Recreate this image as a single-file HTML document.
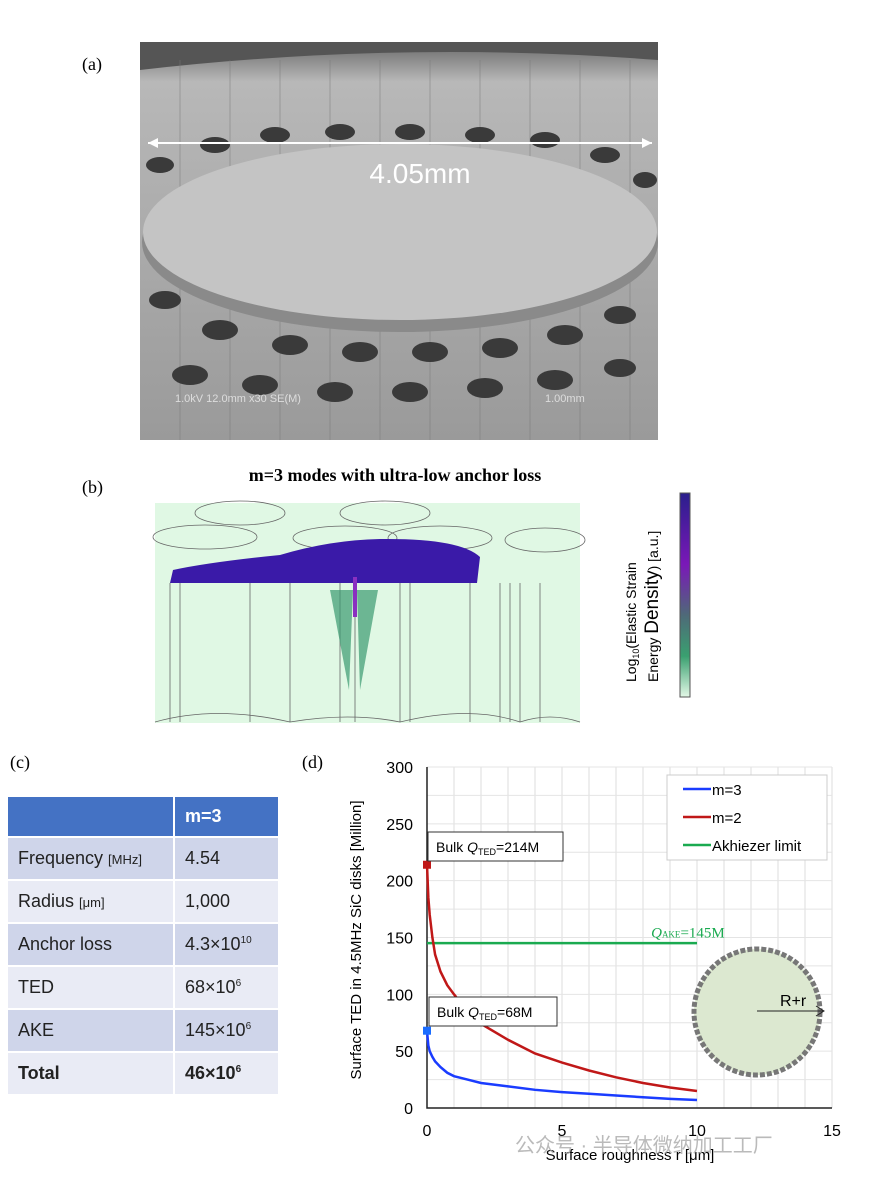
<!DOCTYPE html>
<html><head><meta charset="utf-8"><style>
body{margin:0;background:#fff;width:869px;height:1179px;position:relative;overflow:hidden;font-family:"Liberation Sans",sans-serif}
.abs{position:absolute}
table{border-collapse:separate;border-spacing:2px;font-family:"Liberation Sans",sans-serif;font-size:18px;color:#222}
td{height:39px;padding:0 0 0 10px}
tr.b td{height:41px}
</style></head><body>
<svg class="abs" style="left:0;top:0" width="869" height="1179">
<defs>
<linearGradient id="cb" x1="0" y1="0" x2="0" y2="1"><stop offset="0" stop-color="#2a1f8c"/><stop offset="0.35" stop-color="#7a18b8"/><stop offset="0.6" stop-color="#4e6a78"/><stop offset="0.8" stop-color="#3aa070"/><stop offset="1" stop-color="#e2f8e6"/></linearGradient>
<linearGradient id="sem" x1="0" y1="0" x2="0" y2="1"><stop offset="0" stop-color="#6a6a6a"/><stop offset="0.1" stop-color="#b8b8b8"/><stop offset="1" stop-color="#9a9a9a"/></linearGradient>
</defs>
<text x="82" y="70" font-family="Liberation Serif" font-size="18">(a)</text>
<g>
<rect x="140" y="42" width="518" height="398" fill="url(#sem)"/>
<path d="M140 42 H658 V60 Q400 40 140 70 Z" fill="#555"/>
<g stroke="#777" stroke-width="0.8" opacity="0.6">
<path d="M180 60V440 M230 60V440 M280 60V440 M330 60V440 M380 60V440 M430 60V440 M480 60V440 M530 60V440 M580 60V440 M630 60V440"/>
</g>
<g fill="#3a3a3a">
<ellipse cx="160" cy="165" rx="14" ry="8"/><ellipse cx="215" cy="145" rx="15" ry="8"/><ellipse cx="275" cy="135" rx="15" ry="8"/><ellipse cx="340" cy="132" rx="15" ry="8"/><ellipse cx="410" cy="132" rx="15" ry="8"/><ellipse cx="480" cy="135" rx="15" ry="8"/><ellipse cx="545" cy="140" rx="15" ry="8"/><ellipse cx="605" cy="155" rx="15" ry="8"/><ellipse cx="645" cy="180" rx="12" ry="8"/>
<ellipse cx="165" cy="300" rx="16" ry="9"/><ellipse cx="220" cy="330" rx="18" ry="10"/><ellipse cx="290" cy="345" rx="18" ry="10"/><ellipse cx="360" cy="352" rx="18" ry="10"/><ellipse cx="430" cy="352" rx="18" ry="10"/><ellipse cx="500" cy="348" rx="18" ry="10"/><ellipse cx="565" cy="335" rx="18" ry="10"/><ellipse cx="620" cy="315" rx="16" ry="9"/>
<ellipse cx="190" cy="375" rx="18" ry="10"/><ellipse cx="260" cy="385" rx="18" ry="10"/><ellipse cx="335" cy="392" rx="18" ry="10"/><ellipse cx="410" cy="392" rx="18" ry="10"/><ellipse cx="485" cy="388" rx="18" ry="10"/><ellipse cx="555" cy="380" rx="18" ry="10"/><ellipse cx="620" cy="368" rx="16" ry="9"/>
</g>
<ellipse cx="400" cy="242" rx="258" ry="90" fill="#8a8a8a"/>
<ellipse cx="400" cy="232" rx="257" ry="88" fill="#c4c4c4"/>
<line x1="148" y1="143" x2="652" y2="143" stroke="#fff" stroke-width="2"/>
<path d="M148 143 l10 -5 v10z M652 143 l-10 -5 v10z" fill="#fff"/>
<text x="420" y="183" font-size="28" fill="#fff" text-anchor="middle">4.05mm</text>
<text x="175" y="402" font-size="11" fill="#ddd">1.0kV 12.0mm x30 SE(M)</text>
<text x="545" y="402" font-size="11" fill="#ddd">1.00mm</text>
</g>
<text x="82" y="493" font-family="Liberation Serif" font-size="18">(b)</text>
<text x="395" y="481" font-family="Liberation Serif" font-size="18" font-weight="bold" text-anchor="middle">m=3 modes with ultra-low anchor loss</text>
<g>
<rect x="155" y="503" width="425" height="220" fill="#e0f8e4"/>
<g fill="none" stroke="#666" stroke-width="0.8">
<ellipse cx="240" cy="513" rx="45" ry="12"/><ellipse cx="385" cy="513" rx="45" ry="12"/><ellipse cx="205" cy="537" rx="52" ry="12"/><ellipse cx="345" cy="538" rx="52" ry="12"/><ellipse cx="440" cy="538" rx="52" ry="12"/><ellipse cx="545" cy="540" rx="40" ry="12"/>
<path d="M170 583 V722 M180 583 V722 M250 583 V722 M290 583 V722 M340 583 V722 M355 583 V722 M400 583 V722 M410 583 V722 M470 583 V722 M500 583 V722 M510 583 V722 M520 583 V722 M540 583 V722 M155 722 Q215 705 290 722 Q350 712 400 722 Q470 705 520 722 Q550 712 580 722"/>
</g>
<path d="M170 583 L173 570 Q210 562 280 555 Q330 540 380 539 Q460 538 480 557 L477 583 Z" fill="#3a1aa8"/>
<path d="M330 590 L349 690 L353 590 Z M357 590 L360 690 L378 590 Z" fill="#3a9a70" opacity="0.7"/>
<rect x="353" y="577" width="4" height="40" fill="#8a30c0"/>
</g>
<rect x="680" y="493" width="10" height="204" fill="url(#cb)" stroke="#555"/>
<text transform="translate(636,682) rotate(-90)" font-size="14">Log<tspan font-size="9" dy="3">10</tspan><tspan dy="-3">(Elastic Strain</tspan></text>
<text transform="translate(658,682) rotate(-90)" font-size="14">Energy <tspan font-size="19">Density</tspan>) [a.u.]</text>
<text x="10" y="768" font-family="Liberation Serif" font-size="18">(c)</text>
<text x="302" y="768" font-family="Liberation Serif" font-size="18">(d)</text>
<g id="chart"></g>
</svg>
<table class="abs" style="left:6px;top:795px;width:274px">
<tr style="background:#4472c4;color:#fff;font-weight:bold"><td style="width:155px"></td><td>m=3</td></tr>
<tr class="b" style="background:#cfd5ea"><td>Frequency <span style="font-size:13px">[MHz]</span></td><td>4.54</td></tr>
<tr class="b" style="background:#e9ebf5"><td>Radius <span style="font-size:13px">[μm]</span></td><td>1,000</td></tr>
<tr class="b" style="background:#cfd5ea"><td>Anchor loss</td><td>4.3×10<sup style="font-size:10px">10</sup></td></tr>
<tr class="b" style="background:#e9ebf5"><td>TED</td><td>68×10<sup style="font-size:10px">6</sup></td></tr>
<tr class="b" style="background:#cfd5ea"><td>AKE</td><td>145×10<sup style="font-size:10px">6</sup></td></tr>
<tr class="b" style="background:#e9ebf5;font-weight:bold"><td>Total</td><td>46×10<sup style="font-size:10px">6</sup></td></tr>
</table>
<script>
const xTicks=[0,5,10,15];
const yTicks=[0,50,100,150,200,250,300];
const rVals=[0,0.05,0.1,0.2,0.3,0.5,0.75,1,1.5,2,3,4,5,6,7,8,9,10];
const m3Vals=[68,55,50,45,41,36,31,28,25,22,19,16,14,12.5,11,9.5,8,7];
const m2Vals=[214,185,170,150,135,120,108,100,85,74,60,48,40,33,27,22,18,15];
const akeX=[0,10];
const akeVal=145;
const NS='http://www.w3.org/2000/svg';
const X0=427,XS=27,Y0=1108,YS=341/300;
const sx=v=>X0+v*XS, sy=v=>Y0-v*YS;
const g=document.getElementById('chart');
function mk(t,a){const e=document.createElementNS(NS,t);for(const k in a)e.setAttribute(k,a[k]);g.appendChild(e);return e;}
for(let v=0;v<=15;v+=1){const l=mk('line',{x1:sx(v),x2:sx(v),y1:sy(0),y2:sy(300),stroke:'#ddd'});

}
for(let v=0;v<=300;v+=25){const l=mk('line',{x1:sx(0),x2:sx(15),y1:sy(v),y2:sy(v),stroke:'#e4e4e4'});

}
const ax=mk('path',{d:`M${sx(0)} ${sy(300)} V${sy(0)} H${sx(15)}`,fill:'none',stroke:'#222','stroke-width':1.5});


xTicks.forEach(v=>{const t=mk('text',{x:sx(v),y:1136,'font-size':16,'text-anchor':'middle'});t.textContent=v;

});
yTicks.forEach(v=>{const t=mk('text',{x:413,y:sy(v)+6,'font-size':16,'text-anchor':'end'});t.textContent=v;

});
const yt=mk('text',{transform:'translate(361,940) rotate(-90)','font-size':15,'text-anchor':'middle'});yt.textContent='Surface TED in 4.5MHz SiC disks [Million]';


const xt=mk('text',{x:630,y:1160,'font-size':15,'text-anchor':'middle'});xt.textContent='Surface roughness r [μm]';


const ak=mk('line',{x1:sx(akeX[0]),x2:sx(akeX[1]),y1:sy(akeVal),y2:sy(akeVal),stroke:'#1aaa50','stroke-width':2.5});


const akt=mk('text',{x:sx(8.3),y:sy(150),'font-size':15,fill:'#1aaa50','font-family':'Liberation Serif','font-style':'italic'});akt.innerHTML='Q<tspan font-size="9" font-style="normal">AKE</tspan><tspan font-style="normal">=145M</tspan>';


const c2=mk('path',{d:rVals.map((r,i)=>(i?'L':'M')+sx(r)+' '+sy(m2Vals[i])).join(' '),fill:'none',stroke:'#c01818','stroke-width':2.5});


const c3=mk('path',{d:rVals.map((r,i)=>(i?'L':'M')+sx(r)+' '+sy(m3Vals[i])).join(' '),fill:'none',stroke:'#1a3cff','stroke-width':2.5});


const p2=mk('rect',{x:sx(0)-4,y:sy(m2Vals[0])-4,width:8,height:8,fill:'#c01818'});


const p3=mk('rect',{x:sx(0)-4,y:sy(m3Vals[0])-4,width:8,height:8,fill:'#1a6cff'});


[[428,832,135,'214M'],[429,997,128,'68M']].forEach(([x,y,w,s])=>{const r=mk('rect',{x,y,width:w,height:29,fill:'#fff',stroke:'#333'});


const t=mk('text',{x:x+8,y:y+20,'font-size':14});t.innerHTML='Bulk <tspan font-style="italic">Q</tspan><tspan font-size="9" dy="3">TED</tspan><tspan dy="-3">='+s+'</tspan>';

});
const lg=mk('rect',{x:667,y:775,width:160,height:85,fill:'#fff',stroke:'#ccc'});


[['m=3','#1a3cff'],['m=2','#c01818'],['Akhiezer limit','#1aaa50']].forEach(([s,c],i)=>{const y=789+i*28;
const l=mk('line',{x1:683,x2:711,y1:y,y2:y,stroke:c,'stroke-width':2.5});


const t=mk('text',{x:712,y:y+6,'font-size':15});t.textContent=s;

});
const inset=mk('circle',{cx:757,cy:1012,r:63,fill:'#dce8d0',stroke:'#777','stroke-width':5,'stroke-dasharray':'5 2'});


const ar=mk('path',{d:'M757 1011 H823 M816 1006 L824 1011 L816 1016',fill:'none',stroke:'#222'});


const rt=mk('text',{x:780,y:1006,'font-size':16});rt.textContent='R+r';


const wm=mk('text',{x:515,y:1152,'font-size':20,fill:'#aaa','font-family':'Liberation Sans, Noto Sans CJK SC, sans-serif',opacity:0.8});wm.textContent='公众号 · 半导体微纳加工工厂';


</script>
</body></html>
